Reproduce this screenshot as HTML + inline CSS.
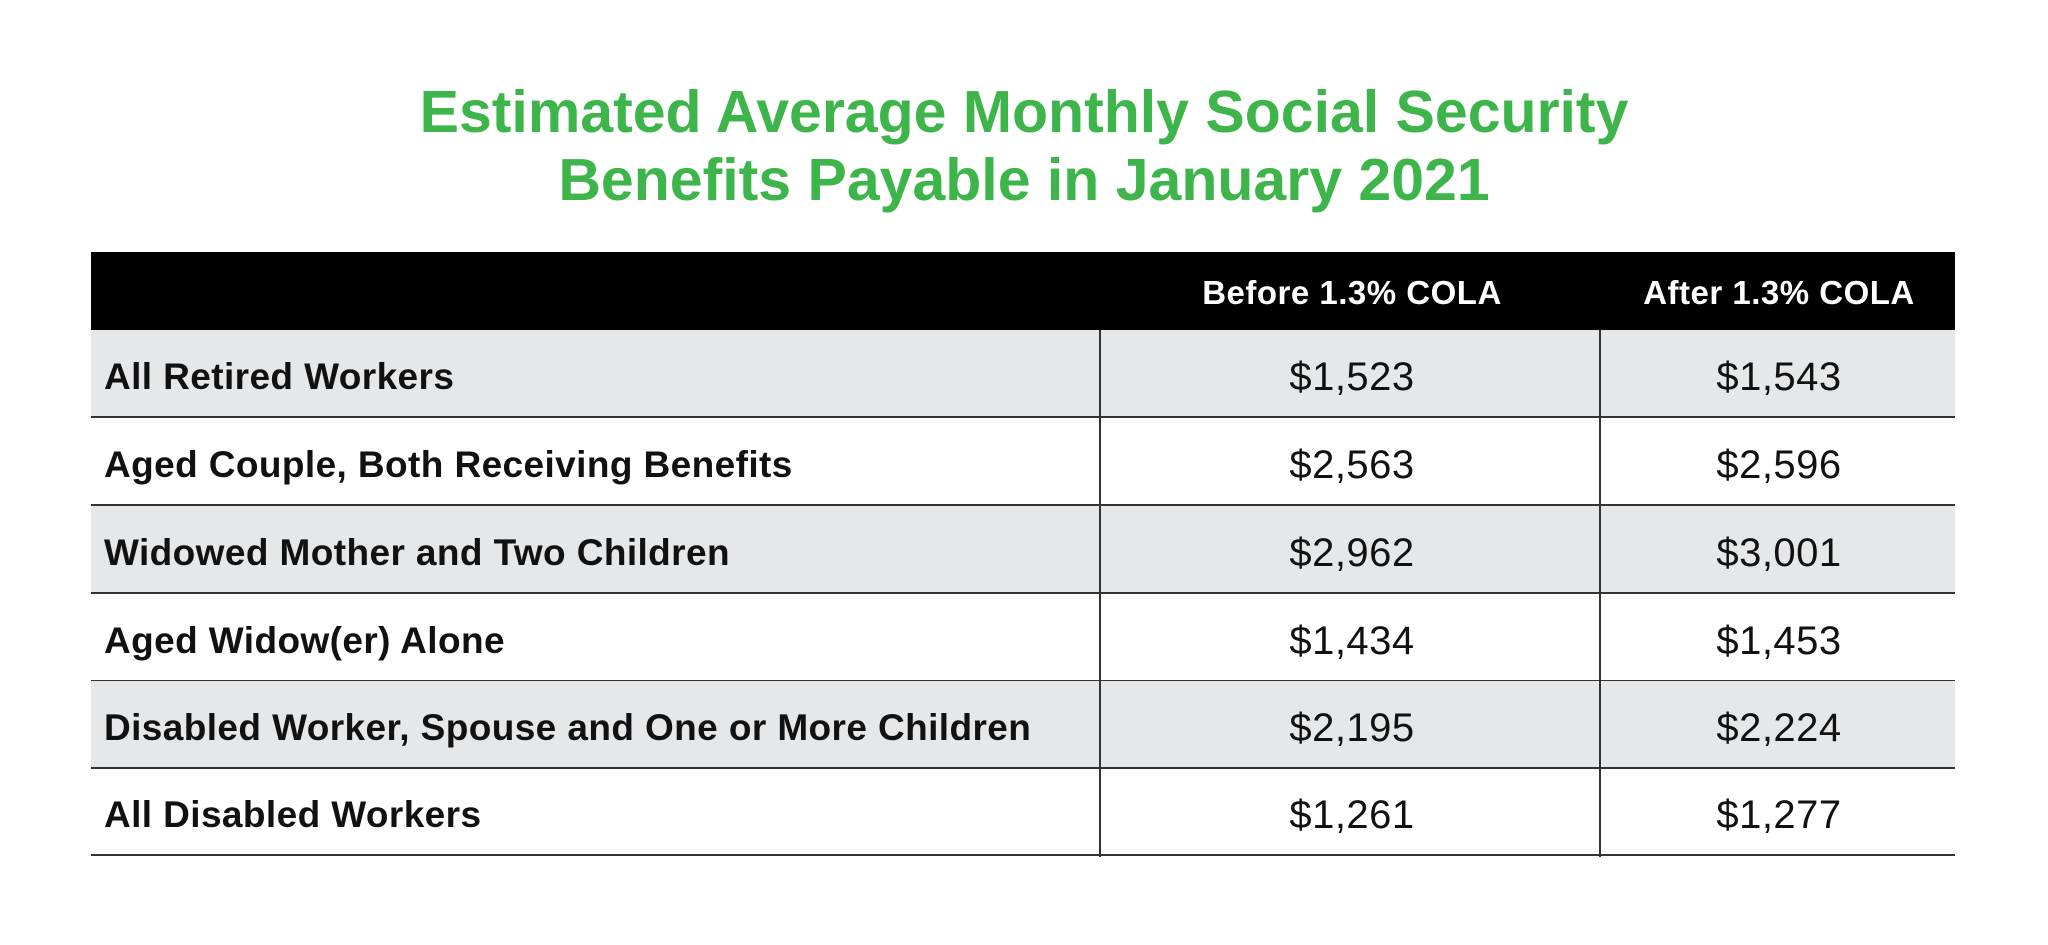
<!DOCTYPE html>
<html><head><style>
body{margin:0;width:2048px;height:945px;background:#fff;font-family:"Liberation Sans",sans-serif;position:relative;overflow:hidden}
.t{position:absolute;left:0;width:2048px;text-align:center;color:#3db54a;font-weight:bold;font-size:59px;letter-spacing:0px}
.hdr{position:absolute;left:91px;width:1864px;top:252px;height:78px;background:#000}
.h{position:absolute;color:#fff;font-weight:bold;font-size:33px;top:274px;text-align:center;width:400px;letter-spacing:0.5px}
.row{position:absolute;left:91px;width:1864px;height:86px;border-bottom:2px solid #333}
.g{background:#e6e7e8}
.lbl{position:absolute;left:13px;top:26px;font-size:37px;font-weight:bold;color:#111;letter-spacing:0.4px}
.v{position:absolute;top:25px;font-size:40px;color:#111;width:400px;text-align:center;letter-spacing:0.5px}
.vl{position:absolute;top:330px;width:2px;height:527px;background:#333}
</style></head><body>
<div class="t" style="top:78px">Estimated Average Monthly Social Security</div>
<div class="t" style="top:146px">Benefits Payable in January 2021</div>
<div class="hdr"></div>
<div class="h" style="left:1152px">Before 1.3% COLA</div>
<div class="h" style="left:1579px">After 1.3% COLA</div>

<div class="row g" style="top:330px"><div class="lbl">All Retired Workers</div><div class="v" style="left:1061px">$1,523</div><div class="v" style="left:1488px">$1,543</div></div>
<div class="row" style="top:418px"><div class="lbl">Aged Couple, Both Receiving Benefits</div><div class="v" style="left:1061px">$2,563</div><div class="v" style="left:1488px">$2,596</div></div>
<div class="row g" style="top:506px"><div class="lbl">Widowed Mother and Two Children</div><div class="v" style="left:1061px">$2,962</div><div class="v" style="left:1488px">$3,001</div></div>
<div class="row" style="top:594px"><div class="lbl">Aged Widow(er) Alone</div><div class="v" style="left:1061px">$1,434</div><div class="v" style="left:1488px">$1,453</div></div>
<div class="row g" style="top:681px"><div class="lbl">Disabled Worker, Spouse and One or More Children</div><div class="v" style="left:1061px">$2,195</div><div class="v" style="left:1488px">$2,224</div></div>
<div class="row" style="top:768px"><div class="lbl">All Disabled Workers</div><div class="v" style="left:1061px">$1,261</div><div class="v" style="left:1488px">$1,277</div></div>
<div class="vl" style="left:1099px"></div>
<div class="vl" style="left:1599px"></div>
</body></html>
